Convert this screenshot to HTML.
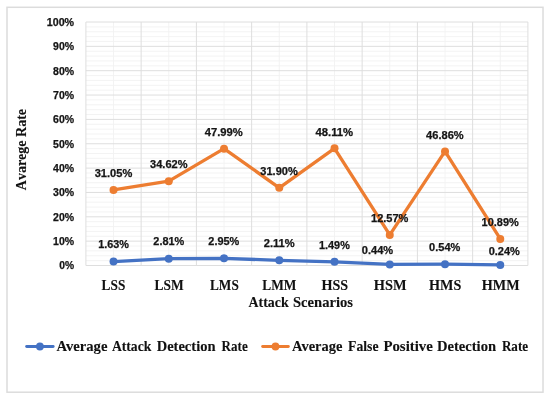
<!DOCTYPE html><html><head><meta charset="utf-8"><title>chart</title><style>html,body{margin:0;padding:0;background:#fff}svg{display:block}text{font-family:"Liberation Sans",sans-serif;font-weight:bold;fill:#151515;stroke:#151515;stroke-width:0.25px}.s{font-family:"Liberation Serif",serif;font-weight:bold;fill:#111;stroke:#111;stroke-width:0.1px}</style></head><body>
<svg width="550" height="399" viewBox="0 0 550 399">
<rect x="0" y="0" width="550" height="399" fill="#fff"/>
<rect x="7" y="7.3" width="536" height="384.9" fill="none" stroke="#dcdcdc" stroke-width="1.5"/>
<line x1="85.9" x2="527.9" y1="260.63" y2="260.63" stroke="#f2f2f2" stroke-width="0.9"/>
<line x1="85.9" x2="527.9" y1="255.76" y2="255.76" stroke="#f2f2f2" stroke-width="0.9"/>
<line x1="85.9" x2="527.9" y1="250.89" y2="250.89" stroke="#f2f2f2" stroke-width="0.9"/>
<line x1="85.9" x2="527.9" y1="246.02" y2="246.02" stroke="#f2f2f2" stroke-width="0.9"/>
<line x1="85.9" x2="527.9" y1="236.28" y2="236.28" stroke="#f2f2f2" stroke-width="0.9"/>
<line x1="85.9" x2="527.9" y1="231.41" y2="231.41" stroke="#f2f2f2" stroke-width="0.9"/>
<line x1="85.9" x2="527.9" y1="226.54" y2="226.54" stroke="#f2f2f2" stroke-width="0.9"/>
<line x1="85.9" x2="527.9" y1="221.67" y2="221.67" stroke="#f2f2f2" stroke-width="0.9"/>
<line x1="85.9" x2="527.9" y1="211.93" y2="211.93" stroke="#f2f2f2" stroke-width="0.9"/>
<line x1="85.9" x2="527.9" y1="207.06" y2="207.06" stroke="#f2f2f2" stroke-width="0.9"/>
<line x1="85.9" x2="527.9" y1="202.19" y2="202.19" stroke="#f2f2f2" stroke-width="0.9"/>
<line x1="85.9" x2="527.9" y1="197.32" y2="197.32" stroke="#f2f2f2" stroke-width="0.9"/>
<line x1="85.9" x2="527.9" y1="187.58" y2="187.58" stroke="#f2f2f2" stroke-width="0.9"/>
<line x1="85.9" x2="527.9" y1="182.71" y2="182.71" stroke="#f2f2f2" stroke-width="0.9"/>
<line x1="85.9" x2="527.9" y1="177.84" y2="177.84" stroke="#f2f2f2" stroke-width="0.9"/>
<line x1="85.9" x2="527.9" y1="172.97" y2="172.97" stroke="#f2f2f2" stroke-width="0.9"/>
<line x1="85.9" x2="527.9" y1="163.23" y2="163.23" stroke="#f2f2f2" stroke-width="0.9"/>
<line x1="85.9" x2="527.9" y1="158.36" y2="158.36" stroke="#f2f2f2" stroke-width="0.9"/>
<line x1="85.9" x2="527.9" y1="153.49" y2="153.49" stroke="#f2f2f2" stroke-width="0.9"/>
<line x1="85.9" x2="527.9" y1="148.62" y2="148.62" stroke="#f2f2f2" stroke-width="0.9"/>
<line x1="85.9" x2="527.9" y1="138.88" y2="138.88" stroke="#f2f2f2" stroke-width="0.9"/>
<line x1="85.9" x2="527.9" y1="134.01" y2="134.01" stroke="#f2f2f2" stroke-width="0.9"/>
<line x1="85.9" x2="527.9" y1="129.14" y2="129.14" stroke="#f2f2f2" stroke-width="0.9"/>
<line x1="85.9" x2="527.9" y1="124.27" y2="124.27" stroke="#f2f2f2" stroke-width="0.9"/>
<line x1="85.9" x2="527.9" y1="114.53" y2="114.53" stroke="#f2f2f2" stroke-width="0.9"/>
<line x1="85.9" x2="527.9" y1="109.66" y2="109.66" stroke="#f2f2f2" stroke-width="0.9"/>
<line x1="85.9" x2="527.9" y1="104.79" y2="104.79" stroke="#f2f2f2" stroke-width="0.9"/>
<line x1="85.9" x2="527.9" y1="99.92" y2="99.92" stroke="#f2f2f2" stroke-width="0.9"/>
<line x1="85.9" x2="527.9" y1="90.18" y2="90.18" stroke="#f2f2f2" stroke-width="0.9"/>
<line x1="85.9" x2="527.9" y1="85.31" y2="85.31" stroke="#f2f2f2" stroke-width="0.9"/>
<line x1="85.9" x2="527.9" y1="80.44" y2="80.44" stroke="#f2f2f2" stroke-width="0.9"/>
<line x1="85.9" x2="527.9" y1="75.57" y2="75.57" stroke="#f2f2f2" stroke-width="0.9"/>
<line x1="85.9" x2="527.9" y1="65.83" y2="65.83" stroke="#f2f2f2" stroke-width="0.9"/>
<line x1="85.9" x2="527.9" y1="60.96" y2="60.96" stroke="#f2f2f2" stroke-width="0.9"/>
<line x1="85.9" x2="527.9" y1="56.09" y2="56.09" stroke="#f2f2f2" stroke-width="0.9"/>
<line x1="85.9" x2="527.9" y1="51.22" y2="51.22" stroke="#f2f2f2" stroke-width="0.9"/>
<line x1="85.9" x2="527.9" y1="41.48" y2="41.48" stroke="#f2f2f2" stroke-width="0.9"/>
<line x1="85.9" x2="527.9" y1="36.61" y2="36.61" stroke="#f2f2f2" stroke-width="0.9"/>
<line x1="85.9" x2="527.9" y1="31.74" y2="31.74" stroke="#f2f2f2" stroke-width="0.9"/>
<line x1="85.9" x2="527.9" y1="26.87" y2="26.87" stroke="#f2f2f2" stroke-width="0.9"/>
<line x1="113.53" x2="113.53" y1="22.0" y2="265.5" stroke="#f2f2f2" stroke-width="0.9"/>
<line x1="168.78" x2="168.78" y1="22.0" y2="265.5" stroke="#f2f2f2" stroke-width="0.9"/>
<line x1="224.03" x2="224.03" y1="22.0" y2="265.5" stroke="#f2f2f2" stroke-width="0.9"/>
<line x1="279.27" x2="279.27" y1="22.0" y2="265.5" stroke="#f2f2f2" stroke-width="0.9"/>
<line x1="334.52" x2="334.52" y1="22.0" y2="265.5" stroke="#f2f2f2" stroke-width="0.9"/>
<line x1="389.77" x2="389.77" y1="22.0" y2="265.5" stroke="#f2f2f2" stroke-width="0.9"/>
<line x1="445.02" x2="445.02" y1="22.0" y2="265.5" stroke="#f2f2f2" stroke-width="0.9"/>
<line x1="500.27" x2="500.27" y1="22.0" y2="265.5" stroke="#f2f2f2" stroke-width="0.9"/>
<line x1="85.9" x2="527.9" y1="265.50" y2="265.50" stroke="#dedede" stroke-width="1"/>
<line x1="85.9" x2="527.9" y1="241.15" y2="241.15" stroke="#dedede" stroke-width="1"/>
<line x1="85.9" x2="527.9" y1="216.80" y2="216.80" stroke="#dedede" stroke-width="1"/>
<line x1="85.9" x2="527.9" y1="192.45" y2="192.45" stroke="#dedede" stroke-width="1"/>
<line x1="85.9" x2="527.9" y1="168.10" y2="168.10" stroke="#dedede" stroke-width="1"/>
<line x1="85.9" x2="527.9" y1="143.75" y2="143.75" stroke="#dedede" stroke-width="1"/>
<line x1="85.9" x2="527.9" y1="119.40" y2="119.40" stroke="#dedede" stroke-width="1"/>
<line x1="85.9" x2="527.9" y1="95.05" y2="95.05" stroke="#dedede" stroke-width="1"/>
<line x1="85.9" x2="527.9" y1="70.70" y2="70.70" stroke="#dedede" stroke-width="1"/>
<line x1="85.9" x2="527.9" y1="46.35" y2="46.35" stroke="#dedede" stroke-width="1"/>
<line x1="85.9" x2="527.9" y1="22.00" y2="22.00" stroke="#dedede" stroke-width="1"/>
<line x1="85.90" x2="85.90" y1="22.0" y2="265.5" stroke="#dedede" stroke-width="1"/>
<line x1="141.15" x2="141.15" y1="22.0" y2="265.5" stroke="#dedede" stroke-width="1"/>
<line x1="196.40" x2="196.40" y1="22.0" y2="265.5" stroke="#dedede" stroke-width="1"/>
<line x1="251.65" x2="251.65" y1="22.0" y2="265.5" stroke="#dedede" stroke-width="1"/>
<line x1="306.90" x2="306.90" y1="22.0" y2="265.5" stroke="#dedede" stroke-width="1"/>
<line x1="362.15" x2="362.15" y1="22.0" y2="265.5" stroke="#dedede" stroke-width="1"/>
<line x1="417.40" x2="417.40" y1="22.0" y2="265.5" stroke="#dedede" stroke-width="1"/>
<line x1="472.65" x2="472.65" y1="22.0" y2="265.5" stroke="#dedede" stroke-width="1"/>
<line x1="527.90" x2="527.90" y1="22.0" y2="265.5" stroke="#dedede" stroke-width="1"/>
<text x="74.1" y="269.30" font-size="10.2" text-anchor="end" textLength="14.8" lengthAdjust="spacingAndGlyphs">0%</text>
<text x="74.1" y="244.95" font-size="10.2" text-anchor="end" textLength="21.0" lengthAdjust="spacingAndGlyphs">10%</text>
<text x="74.1" y="220.60" font-size="10.2" text-anchor="end" textLength="21.0" lengthAdjust="spacingAndGlyphs">20%</text>
<text x="74.1" y="196.25" font-size="10.2" text-anchor="end" textLength="21.0" lengthAdjust="spacingAndGlyphs">30%</text>
<text x="74.1" y="171.90" font-size="10.2" text-anchor="end" textLength="21.0" lengthAdjust="spacingAndGlyphs">40%</text>
<text x="74.1" y="147.55" font-size="10.2" text-anchor="end" textLength="21.0" lengthAdjust="spacingAndGlyphs">50%</text>
<text x="74.1" y="123.20" font-size="10.2" text-anchor="end" textLength="21.0" lengthAdjust="spacingAndGlyphs">60%</text>
<text x="74.1" y="98.85" font-size="10.2" text-anchor="end" textLength="21.0" lengthAdjust="spacingAndGlyphs">70%</text>
<text x="74.1" y="74.50" font-size="10.2" text-anchor="end" textLength="21.0" lengthAdjust="spacingAndGlyphs">80%</text>
<text x="74.1" y="50.15" font-size="10.2" text-anchor="end" textLength="21.0" lengthAdjust="spacingAndGlyphs">90%</text>
<text x="74.1" y="25.80" font-size="10.2" text-anchor="end" textLength="27.3" lengthAdjust="spacingAndGlyphs">100%</text>
<polyline points="113.53,261.53 168.78,258.66 224.03,258.32 279.27,260.36 334.52,261.87 389.77,264.43 445.02,264.19 500.27,264.92" fill="none" stroke="#4472c4" stroke-width="3.3" stroke-linejoin="round" stroke-linecap="round"/>
<circle cx="113.53" cy="261.53" r="4.0" fill="#4472c4"/>
<circle cx="168.78" cy="258.66" r="4.0" fill="#4472c4"/>
<circle cx="224.03" cy="258.32" r="4.0" fill="#4472c4"/>
<circle cx="279.27" cy="260.36" r="4.0" fill="#4472c4"/>
<circle cx="334.52" cy="261.87" r="4.0" fill="#4472c4"/>
<circle cx="389.77" cy="264.43" r="4.0" fill="#4472c4"/>
<circle cx="445.02" cy="264.19" r="4.0" fill="#4472c4"/>
<circle cx="500.27" cy="264.92" r="4.0" fill="#4472c4"/>
<polyline points="113.53,189.89 168.78,181.20 224.03,148.64 279.27,187.82 334.52,148.35 389.77,234.89 445.02,151.40 500.27,238.98" fill="none" stroke="#ed7d31" stroke-width="3.3" stroke-linejoin="round" stroke-linecap="round"/>
<circle cx="113.53" cy="189.89" r="4.0" fill="#ed7d31"/>
<circle cx="168.78" cy="181.20" r="4.0" fill="#ed7d31"/>
<circle cx="224.03" cy="148.64" r="4.0" fill="#ed7d31"/>
<circle cx="279.27" cy="187.82" r="4.0" fill="#ed7d31"/>
<circle cx="334.52" cy="148.35" r="4.0" fill="#ed7d31"/>
<circle cx="389.77" cy="234.89" r="4.0" fill="#ed7d31"/>
<circle cx="445.02" cy="151.40" r="4.0" fill="#ed7d31"/>
<circle cx="500.27" cy="238.98" r="4.0" fill="#ed7d31"/>
<text x="113.5" y="177.2" font-size="10.1" text-anchor="middle" textLength="37.6" lengthAdjust="spacingAndGlyphs">31.05%</text>
<text x="168.8" y="168.2" font-size="10.1" text-anchor="middle" textLength="37.4" lengthAdjust="spacingAndGlyphs">34.62%</text>
<text x="223.8" y="135.7" font-size="10.1" text-anchor="middle" textLength="38.0" lengthAdjust="spacingAndGlyphs">47.99%</text>
<text x="279" y="175.1" font-size="10.1" text-anchor="middle" textLength="37.4" lengthAdjust="spacingAndGlyphs">31.90%</text>
<text x="334.3" y="135.7" font-size="10.1" text-anchor="middle" textLength="37.8" lengthAdjust="spacingAndGlyphs">48.11%</text>
<text x="389.7" y="221.7" font-size="10.1" text-anchor="middle" textLength="37.4" lengthAdjust="spacingAndGlyphs">12.57%</text>
<text x="444.9" y="138.5" font-size="10.1" text-anchor="middle" textLength="37.6" lengthAdjust="spacingAndGlyphs">46.86%</text>
<text x="500.2" y="226.1" font-size="10.1" text-anchor="middle" textLength="37.2" lengthAdjust="spacingAndGlyphs">10.89%</text>
<text x="113.6" y="248.4" font-size="10.1" text-anchor="middle" textLength="30.8" lengthAdjust="spacingAndGlyphs">1.63%</text>
<text x="168.8" y="245.4" font-size="10.1" text-anchor="middle" textLength="31.0" lengthAdjust="spacingAndGlyphs">2.81%</text>
<text x="223.8" y="245.2" font-size="10.1" text-anchor="middle" textLength="31.0" lengthAdjust="spacingAndGlyphs">2.95%</text>
<text x="279.2" y="247.2" font-size="10.1" text-anchor="middle" textLength="31.0" lengthAdjust="spacingAndGlyphs">2.11%</text>
<text x="334.4" y="248.8" font-size="10.1" text-anchor="middle" textLength="30.8" lengthAdjust="spacingAndGlyphs">1.49%</text>
<text x="377.5" y="254.1" font-size="10.1" text-anchor="middle" textLength="31.4" lengthAdjust="spacingAndGlyphs">0.44%</text>
<text x="444.7" y="250.7" font-size="10.1" text-anchor="middle" textLength="31.2" lengthAdjust="spacingAndGlyphs">0.54%</text>
<text x="504.3" y="255.1" font-size="10.1" text-anchor="middle" textLength="31.2" lengthAdjust="spacingAndGlyphs">0.24%</text>
<text class="s" x="101.6" y="289.8" font-size="14.1" textLength="23.7" lengthAdjust="spacingAndGlyphs">LSS</text>
<text class="s" x="154.5" y="289.8" font-size="14.1" textLength="29.2" lengthAdjust="spacingAndGlyphs">LSM</text>
<text class="s" x="210.0" y="289.8" font-size="14.1" textLength="28.8" lengthAdjust="spacingAndGlyphs">LMS</text>
<text class="s" x="262.3" y="289.8" font-size="14.1" textLength="34.2" lengthAdjust="spacingAndGlyphs">LMM</text>
<text class="s" x="321.4" y="289.8" font-size="14.1" textLength="26.7" lengthAdjust="spacingAndGlyphs">HSS</text>
<text class="s" x="373.7" y="289.8" font-size="14.1" textLength="32.8" lengthAdjust="spacingAndGlyphs">HSM</text>
<text class="s" x="429.0" y="289.8" font-size="14.1" textLength="32.3" lengthAdjust="spacingAndGlyphs">HMS</text>
<text class="s" x="481.8" y="289.8" font-size="14.1" textLength="37.8" lengthAdjust="spacingAndGlyphs">HMM</text>
<text class="s" x="248.6" y="306.5" font-size="13.6" textLength="40.1" lengthAdjust="spacingAndGlyphs">Attack</text>
<text class="s" x="293.0" y="306.5" font-size="13.6" textLength="60.0" lengthAdjust="spacingAndGlyphs">Scenarios</text>
<text class="s" transform="translate(26.3,149.6) rotate(-90)" style="font-kerning:none" font-size="14.2" text-anchor="middle" textLength="81.2" lengthAdjust="spacingAndGlyphs">Avarege Rate</text>
<line x1="26.6" x2="53.2" y1="346.5" y2="346.5" stroke="#4472c4" stroke-width="2.8" stroke-linecap="round"/><circle cx="39.900000000000006" cy="346.5" r="3.9" fill="#4472c4"/>
<text class="s" x="56.4" y="350.6" font-size="14" textLength="51.0" lengthAdjust="spacingAndGlyphs">Average</text>
<text class="s" x="111.9" y="350.6" font-size="14" textLength="39.5" lengthAdjust="spacingAndGlyphs">Attack</text>
<text class="s" x="156.7" y="350.6" font-size="14" textLength="58.8" lengthAdjust="spacingAndGlyphs">Detection</text>
<text class="s" x="221.6" y="350.6" font-size="14" textLength="26.1" lengthAdjust="spacingAndGlyphs">Rate</text>
<line x1="262.6" x2="288.4" y1="346.5" y2="346.5" stroke="#ed7d31" stroke-width="2.8" stroke-linecap="round"/><circle cx="275.5" cy="346.5" r="3.9" fill="#ed7d31"/>
<text class="s" x="292.0" y="350.6" font-size="14" textLength="50.4" lengthAdjust="spacingAndGlyphs">Average</text>
<text class="s" x="348.1" y="350.6" font-size="14" textLength="30.4" lengthAdjust="spacingAndGlyphs">False</text>
<text class="s" x="383.4" y="350.6" font-size="14" textLength="49.4" lengthAdjust="spacingAndGlyphs">Positive</text>
<text class="s" x="436.9" y="350.6" font-size="14" textLength="59.2" lengthAdjust="spacingAndGlyphs">Detection</text>
<text class="s" x="501.9" y="350.6" font-size="14" textLength="26.2" lengthAdjust="spacingAndGlyphs">Rate</text>
</svg></body></html>
